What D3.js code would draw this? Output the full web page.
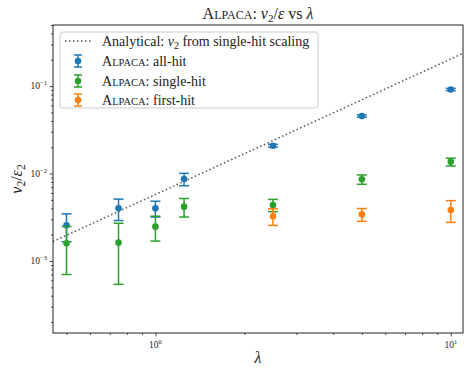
<!DOCTYPE html>
<html>
<head>
<meta charset="utf-8">
<script src="https://cdn.jsdelivr.net/npm/d3@7"></script>
<style>
  body { margin: 0; background: #fff; }
  svg text { font-family: "Liberation Serif", "DejaVu Serif", serif; fill: #222; }
</style>
</head>
<body>
<svg id="chart" width="474" height="377"></svg>
<script>
// lambda values
const lambdas = [0.5, 0.75, 1.0, 1.25, 2.5, 5, 10];

// ALPACA all-hit
const allHit    = [2.56e-3, 4.0e-3, 4.0e-3, 8.65e-3, 2.08e-2, 4.54e-2, 9.16e-2];
const allHitErr = [0.9e-3, 1.1e-3, 0.82e-3, 1.4e-3, 0.08e-2, 0.14e-2, 0.28e-2];

// ALPACA single-hit
const singleHit    = [1.59e-3, 1.62e-3, 2.47e-3, 4.18e-3, 4.36e-3, 8.59e-3, 1.36e-2];
const singleHitErr = [0.89e-3, 1.08e-3, 0.78e-3, 1.0e-3, 0.7e-3, 1.05e-3, 0.14e-2];

// ALPACA first-hit (only at larger lambda)
const firstLambdas = [2.5, 5, 10];
const firstHit     = [3.25e-3, 3.41e-3, 3.83e-3];
const firstHitErr  = [0.7e-3, 0.57e-3, 1.07e-3];

// analytical power-law line endpoints (straight on log-log)
const analyticX = [0.45, 11];
const analyticY = [1.67e-3, 0.237];

const xTicks = [1, 10];
const yTicks = [1e-3, 1e-2, 1e-1];

const margins = { top: 25, right: 11, bottom: 44, left: 53 };
const W = 474, H = 377;
const w = W - margins.left - margins.right;
const h = H - margins.top - margins.bottom;

const svg = d3.select("#chart");
const g = svg.append("g").attr("transform", `translate(${margins.left},${margins.top})`);

const x = d3.scaleLog().domain([0.45, 11]).range([0, w]);
const y = d3.scaleLog().domain([1.5e-4, 0.5]).range([h, 0]);

// minor ticks
function minorTicks(lo, hi) {
    const out = [];
    for (let e = Math.floor(Math.log10(lo)); e <= Math.ceil(Math.log10(hi)); e++) {
        for (let m = 2; m <= 9; m++) {
            const v = m * Math.pow(10, e);
            if (v >= lo && v <= hi) out.push(v);
        }
    }
    return out;
}

const xAxis = g.append("g").attr("transform", `translate(0,${h})`);
xAxis.call(d3.axisBottom(x).tickValues(minorTicks(0.45, 11)).tickSize(2).tickFormat(""));
const xMaj = g.append("g").attr("transform", `translate(0,${h})`);
xMaj.call(d3.axisBottom(x).tickValues(xTicks).tickSize(3.5).tickFormat(""));

const yAxis = g.append("g");
yAxis.call(d3.axisLeft(y).tickValues(minorTicks(1.5e-4, 0.5)).tickSize(2).tickFormat(""));
const yMaj = g.append("g");
yMaj.call(d3.axisLeft(y).tickValues(yTicks).tickSize(3.5).tickFormat(""));

g.selectAll(".domain").remove();
g.selectAll(".tick line").attr("stroke", "#222").attr("stroke-width", 0.8);

// tick labels as 10^e
function powLabel(sel, e) {
    sel.append("tspan").text("10");
    sel.append("tspan").attr("dy", -4).attr("font-size", 6.5).text(e < 0 ? "\u2212" + (-e) : String(e));
}
xTicks.forEach(v => {
    const t = g.append("text").attr("x", x(v)).attr("y", h + 15)
        .attr("text-anchor", "middle").attr("font-size", 9.5);
    powLabel(t, Math.round(Math.log10(v)));
});
yTicks.forEach(v => {
    const t = g.append("text").attr("x", -6).attr("y", y(v) + 3)
        .attr("text-anchor", "end").attr("font-size", 9.5);
    powLabel(t, Math.round(Math.log10(v)));
});

// analytical dotted line
const line = d3.line().x(d => x(d[0])).y(d => y(d[1]));
g.append("path")
    .attr("d", line(analyticX.map((d, i) => [d, analyticY[i]])))
    .attr("fill", "none").attr("stroke", "#555").attr("stroke-width", 1.5)
    .attr("stroke-dasharray", "1.5 2.5");

// error bars
const series = [
    { xs: lambdas, ys: allHit, es: allHitErr, color: "#1f77b4" },
    { xs: lambdas, ys: singleHit, es: singleHitErr, color: "#2ca02c" },
    { xs: firstLambdas, ys: firstHit, es: firstHitErr, color: "#ff7f0e" }
];
const cap = 5;
series.forEach(s => {
    const pts = s.xs.map((v, i) => ({ x: v, y: s.ys[i], e: s.es[i] }));
    const sg = g.append("g");
    const eg = sg.selectAll("g").data(pts).join("g")
        .attr("stroke", s.color).attr("stroke-width", 1.5);
    eg.append("line")
        .attr("x1", d => x(d.x)).attr("x2", d => x(d.x))
        .attr("y1", d => y(d.y + d.e)).attr("y2", d => y(d.y - d.e));
    eg.append("line")
        .attr("x1", d => x(d.x) - cap).attr("x2", d => x(d.x) + cap)
        .attr("y1", d => y(d.y + d.e)).attr("y2", d => y(d.y + d.e));
    eg.append("line")
        .attr("x1", d => x(d.x) - cap).attr("x2", d => x(d.x) + cap)
        .attr("y1", d => y(d.y - d.e)).attr("y2", d => y(d.y - d.e));
    sg.selectAll("circle").data(pts).join("circle")
        .attr("cx", d => x(d.x)).attr("cy", d => y(d.y)).attr("r", 3.3)
        .attr("fill", s.color);
});

// frame
g.append("rect").attr("width", w).attr("height", h)
    .attr("fill", "none").attr("stroke", "#222").attr("stroke-width", 1);

// legend
const lg = svg.append("g");
lg.append("rect").attr("x", 60).attr("y", 32).attr("width", 258).attr("height", 76)
    .attr("rx", 3).attr("fill", "rgba(255,255,255,0.8)").attr("stroke", "#ccc").attr("stroke-width", 1);
lg.append("line").attr("x1", 65).attr("x2", 91).attr("y1", 41).attr("y2", 41)
    .attr("stroke", "#555").attr("stroke-width", 1.5).attr("stroke-dasharray", "1.5 2.5");
const l1 = lg.append("text").attr("x", 102).attr("y", 45.5).attr("font-size", 14);
l1.append("tspan").text("Analytical: ");
l1.append("tspan").attr("font-style", "italic").text("v");
l1.append("tspan").attr("dy", 3).attr("font-size", 10).text("2");
l1.append("tspan").attr("dy", -3).text(" from single-hit scaling");

const legendLabels = ["all-hit", "single-hit", "first-hit"];
const legendY = [61, 81, 100];
series.forEach((s, i) => {
    const cy = legendY[i];
    const hg = lg.append("g").attr("stroke", s.color).attr("stroke-width", 1.5);
    hg.append("line").attr("x1", 78).attr("x2", 78).attr("y1", cy - 6).attr("y2", cy + 6);
    hg.append("line").attr("x1", 74).attr("x2", 82).attr("y1", cy - 6).attr("y2", cy - 6);
    hg.append("line").attr("x1", 74).attr("x2", 82).attr("y1", cy + 6).attr("y2", cy + 6);
    lg.append("circle").attr("cx", 78).attr("cy", cy).attr("r", 3.3).attr("fill", s.color);
    const t = lg.append("text").attr("x", 102).attr("y", cy + 4.5).attr("font-size", 14);
    t.append("tspan").text("A");
    t.append("tspan").attr("font-size", 10.5).text("LPACA");
    t.append("tspan").text(": " + legendLabels[i]);
});

// title
const title = svg.append("text").attr("x", margins.left + w / 2).attr("y", 19)
    .attr("text-anchor", "middle").attr("font-size", 16);
title.append("tspan").text("A");
title.append("tspan").attr("font-size", 12).text("LPACA");
title.append("tspan").text(": ");
title.append("tspan").attr("font-style", "italic").text("v");
title.append("tspan").attr("dy", 3).attr("font-size", 11).text("2");
title.append("tspan").attr("dy", -3).text("/");
title.append("tspan").attr("font-style", "italic").text("\u03b5");
title.append("tspan").text(" vs ");
title.append("tspan").attr("font-style", "italic").text("\u03bb");

// axis labels
svg.append("text").attr("x", margins.left + w / 2).attr("y", 363)
    .attr("text-anchor", "middle").attr("font-size", 16).attr("font-style", "italic").text("\u03bb");

const yl = svg.append("text").attr("transform", `translate(22,${margins.top + h / 2}) rotate(-90)`)
    .attr("text-anchor", "middle").attr("font-size", 16);
yl.append("tspan").attr("font-style", "italic").text("v");
yl.append("tspan").attr("dy", 3).attr("font-size", 11.5).text("2");
yl.append("tspan").attr("dy", -3).text("/");
yl.append("tspan").attr("font-style", "italic").text("\u03b5");
yl.append("tspan").attr("dy", 3).attr("font-size", 11.5).text("2");
</script>
</body>
</html>
